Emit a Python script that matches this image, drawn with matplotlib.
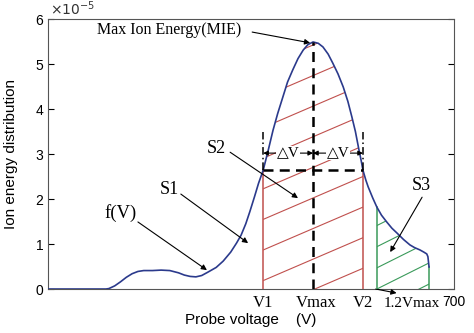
import numpy as np
import matplotlib
matplotlib.use("Agg")
import matplotlib.pyplot as plt
from matplotlib.patches import Polygon

# curve (y in units of 1e-5)
volt = [0, 100, 105, 115, 125, 135, 145, 155, 165, 180, 195, 210, 225, 235, 245,
        255, 265, 275, 290, 302, 315, 325, 333, 341, 348, 356, 363, 371, 380, 388,
        396, 405, 413, 422, 431, 440, 448, 457, 466, 474, 483, 491, 500, 509, 517,
        524, 530, 536, 540, 543, 548, 552, 560, 567, 575, 584, 593, 602, 613, 624,
        632, 641, 648, 653, 655, 657]
dist = [0, 0, 0.01, 0.07, 0.16, 0.26, 0.34, 0.39, 0.41, 0.41, 0.42, 0.41, 0.36, 0.31, 0.28,
        0.27, 0.30, 0.37, 0.48, 0.62, 0.82, 1.02, 1.20, 1.45, 1.72, 2.05, 2.35, 2.64, 3.10, 3.53,
        3.90, 4.27, 4.60, 4.87, 5.12, 5.31, 5.43, 5.49, 5.46, 5.38, 5.22, 5.02, 4.78, 4.49, 4.17,
        3.82, 3.50, 3.10, 2.85, 2.64, 2.42, 2.27, 2.02, 1.82, 1.64, 1.49, 1.35, 1.24, 1.10, 0.98,
        0.92, 0.87, 0.82, 0.78, 0.72, 0.49]

v1, vmax, v2 = 371, 457, 543
s3_start, s3_end = 567, 657
half_level = 2.64
peak = 5.49
dv_level = 3.02

serif = ['Liberation Serif', 'DejaVu Serif']
plt.rcParams['font.family'] = ['Liberation Sans', 'DejaVu Sans']

volt = np.array(volt)
dist = np.array(dist)

fig = plt.figure(figsize=(4.74, 3.33), dpi=100)
ax = fig.add_axes([0.1013, 0.1321, 0.8565, 0.8108])

ax.plot(volt, dist, color='#2b3a8c', lw=1.2, zorder=5)


def hatch_region(lo, hi, slope, anchor, step, color, lw):
    m = (volt >= lo) & (volt <= hi)
    verts = [(lo, 0)] + list(zip(volt[m], dist[m])) + [(hi, 0)]
    poly = Polygon(verts, closed=True, fc='none', ec='none')
    ax.add_patch(poly)
    xs = np.array([lo - 50, hi + 50])
    for k in range(-10, 15):
        ln, = ax.plot(xs, slope * (xs - anchor) + k * step, color=color, lw=lw, zorder=3)
        ln.set_clip_path(poly)
    for x in (lo, hi):
        ax.plot([x, x], [0, dist[volt == x][0]], color=color, lw=1.1, zorder=4)


hatch_region(v1, v2, 0.00554, 460, 0.68, '#c0504d', 0.8)
hatch_region(s3_start, s3_end, 0.00644, 567, 0.47, '#3a9a5a', 0.8)

# dashed guides
ax.plot([vmax, vmax], [0, peak], color='black', lw=1.8, ls=(0, (4, 2.5)), zorder=6)
ax.plot([v1, v2], [half_level, half_level], color='black', lw=1.8, ls=(0, (4, 2.5)), zorder=6)
for x in (v1, v2):
    ax.plot([x, x], [half_level, 3.5], color='black', lw=1.1, ls=(0, (5, 2, 1, 2)), zorder=6)

# delta V arrows
for a, b in ((v1, vmax), (vmax, v2)):
    ax.annotate('', xy=(a, dv_level), xytext=(b, dv_level),
                arrowprops=dict(arrowstyle='<|-|>', color='black', lw=0.8,
                                mutation_scale=7, shrinkA=0, shrinkB=0), zorder=7)
    ax.text((a + b) / 2, dv_level, '△V', family=['Liberation Serif', 'DejaVu Sans'],
            fontsize=11, ha='center', va='center', zorder=8,
            bbox=dict(fc='white', ec='none', pad=0.5))

arrow = dict(arrowstyle='-|>', color='black', lw=0.8, mutation_scale=8, shrinkA=0, shrinkB=0)
labels = [
    ('Max Ion Energy(MIE)', (84, 5.76), 'left', 11.5, (352, 5.71), (452, 5.47)),
    ('S2', (291, 3.13), 'center', 13, (314, 3.04), (431, 2.02)),
    ('S1', (210, 2.22), 'center', 13, (229, 2.11), (345, 1.02)),
    ('f(V)', (126, 1.69), 'center', 13.5, (155, 1.49), (274, 0.42)),
    ('S3', (643, 2.31), 'center', 13, (645, 2.04), (590, 0.82)),
]
for txt, pos, ha, fs, tail, head in labels:
    ax.text(pos[0], pos[1], txt, family=serif, fontsize=fs, ha=ha, va='center', zorder=8)
    ax.annotate('', xy=head, xytext=tail, arrowprops=arrow, zorder=8)

ax.annotate('', xy=(601, -0.09), xytext=(565, 0.0), arrowprops=arrow, annotation_clip=False)

# voltage marks under the axis
xt = ax.get_xaxis_transform()
for txt, x, fs in (('V1', v1, 12), ('Vmax', 462, 12), ('V2', v2, 12), ('1.2Vmax', 627, 11)):
    ax.text(x, -0.052, txt, family=serif, fontsize=fs, ha='center', va='center', transform=xt)

ax.set_xlim(0, 700)
ax.set_ylim(0, 6)
ax.set_xticks([700])
ax.set_yticks(range(7))
ax.tick_params(axis='x', length=0, labelsize=10, pad=4)
ax.tick_params(axis='y', direction='in', length=4, labelsize=10, right=True)
for s in ax.spines.values():
    s.set_color('#555555')

ax.text(0.005, 1.005, r'$\times10^{-5}$', transform=ax.transAxes, fontsize=10,
        ha='left', va='bottom', color='#333333')

ax.set_xlabel('Probe voltage    (V)', fontsize=11)
ax.xaxis.set_label_coords(0.5, -0.088)
ax.set_ylabel('Ion energy distribution', fontsize=11)
ax.yaxis.set_label_coords(-0.075, 0.5)

fig.savefig('out.png', dpi=100)
